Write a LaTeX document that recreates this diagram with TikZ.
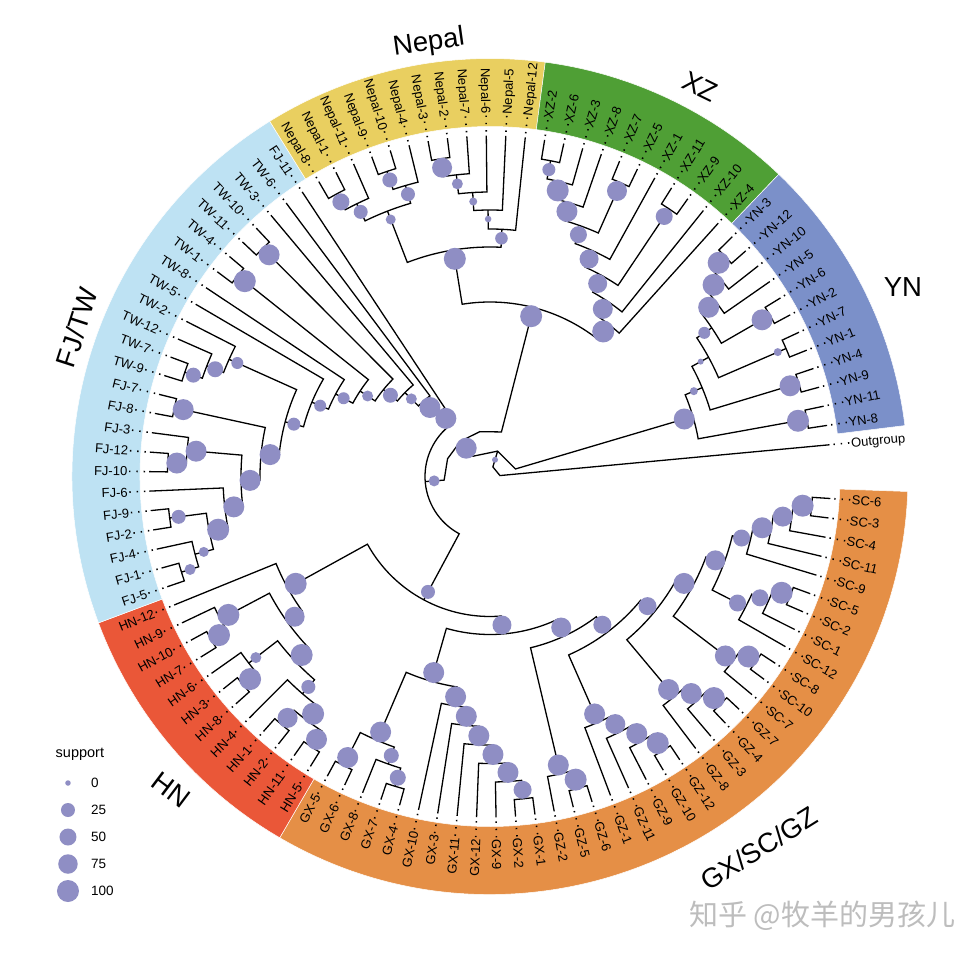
\documentclass[tikz,border=0pt]{standalone}
\usepackage{fontspec}
\setmainfont{Liberation Sans}
\newfontfamily\cjkfont{Noto Sans CJK SC}
\definecolor{suppc}{HTML}{8F8EC4}
\definecolor{ringO}{HTML}{E58F46}
\definecolor{ringR}{HTML}{EA5738}
\definecolor{ringB}{HTML}{BEE2F3}
\definecolor{ringY}{HTML}{E9CF60}
\definecolor{ringG}{HTML}{4F9F35}
\definecolor{ringV}{HTML}{7B90C9}
\pgfdeclarelayer{fg}
\pgfsetlayers{main,fg}
\tikzset{
  branch/.style={draw=black,line width=1.3pt,line join=miter},
  tipdots/.style={draw=black,line width=1.6pt,dash pattern=on 1.4pt off 5.9pt},
  supp/.style={circle,fill=suppc,draw=none,inner sep=0pt},
  tiplab/.style={inner sep=0pt,text height=9.4pt,text depth=0pt,font=\fontsize{13}{13}\selectfont},
  grouplab/.style={inner sep=0pt,font=\fontsize{27.5}{28}\selectfont},
  leglab/.style={inner sep=0pt,anchor=west,font=\fontsize{13.5}{14}\selectfont},
}
\newcommand{\sector}[3]{%
  \fill[#3,draw=white,line width=0.5pt] (#1:350pt) arc[start angle=#1,end angle=#2,radius=350pt]
    -- (#2:418pt) arc[start angle=#2,end angle=#1,radius=418pt] -- cycle;}
\newcommand{\tip}[2]{%
  \pgfmathsetmacro{\tipA}{-3.7-3.28*#2}%
  \expandafter\xdef\csname ang@#1\endcsname{\tipA}%
  \coordinate (#1) at (\tipA:341pt);%
  \coordinate (#1-d) at (\tipA:345pt);%
  \coordinate (#1-e) at (\tipA:361pt);%
  \draw[tipdots] (#1-d) -- (#1-e);%
  \pgfmathparse{cos(\tipA)>=0?1:0}%
  \ifdim\pgfmathresult pt>0.5pt
    \node[tiplab,anchor=west,rotate=\tipA] (#1-l) at (\tipA:362.5pt) {#1};%
  \else
    \pgfmathsetmacro{\tipR}{\tipA+180}%
    \node[tiplab,anchor=east,rotate=\tipR] (#1-l) at (\tipA:362.5pt) {#1};%
  \fi}
\newcommand{\cladeangles}[3]{%
  \edef\angA{\csname ang@#2\endcsname}%
  \edef\angB{\csname ang@#3\endcsname}%
  \pgfmathsetmacro{\angM}{(\angA+\angB)/2}%
  \expandafter\xdef\csname ang@#1\endcsname{\angM}}
\newcommand{\cladecircle}[2]{%
  \ifdim#2pt>0pt
    \pgfmathsetmacro{\radC}{\radN-9}%
    \begin{pgfonlayer}{fg}\node[supp,minimum size={2*#2 pt}] (#1-s) at (\angM:\radC pt) {};\end{pgfonlayer}%
  \fi}
\newcommand{\clade}[5]{%
  \cladeangles{#1}{#3}{#4}\def\radN{#2}%
  \coordinate (#1) at (\angM:#2pt);%
  \draw[branch] (#3) -- (\angA:#2pt) arc[start angle=\angA,end angle=\angB,radius=#2pt] -- (#4);%
  \cladecircle{#1}{#5}}
% same, for the innermost clades, whose arcs the reference shows as a few straight pieces
\newcommand{\cladepoly}[6]{%
  \cladeangles{#1}{#3}{#4}\def\radN{#2}%
  \coordinate (#1) at (\angM:#2pt);%
  \draw[branch] (#3) -- plot[samples=#6,domain=\angA:\angB] ({\x}:#2pt) -- (#4);%
  \cladecircle{#1}{#5}}
\begin{document}
\begin{tikzpicture}[x=1pt,y=1pt]
\fill[white] (-490,476.5) rectangle (489,-476.5);
\useasboundingbox (-490,476.5) rectangle (489,-476.5);
% ring
\sector{-2.06}{-120.2}{ringO}
\sector{-120.2}{-159.5}{ringR}
\sector{-159.5}{-238.2}{ringB}
\sector{-238.2}{-277.6}{ringY}
\sector{-277.6}{-313.7}{ringG}
\sector{-313.7}{-353.0}{ringV}
% tips
\tip{SC-6}{0}\tip{SC-3}{1}\tip{SC-4}{2}\tip{SC-11}{3}\tip{SC-9}{4}\tip{SC-5}{5}
\tip{SC-2}{6}\tip{SC-1}{7}\tip{SC-12}{8}\tip{SC-8}{9}\tip{SC-10}{10}\tip{SC-7}{11}
\tip{GZ-7}{12}\tip{GZ-4}{13}\tip{GZ-3}{14}\tip{GZ-8}{15}\tip{GZ-12}{16}\tip{GZ-10}{17}
\tip{GZ-9}{18}\tip{GZ-11}{19}\tip{GZ-1}{20}\tip{GZ-6}{21}\tip{GZ-5}{22}\tip{GZ-2}{23}
\tip{GX-1}{24}\tip{GX-2}{25}\tip{GX-9}{26}\tip{GX-12}{27}\tip{GX-11}{28}\tip{GX-3}{29}
\tip{GX-10}{30}\tip{GX-4}{31}\tip{GX-7}{32}\tip{GX-8}{33}\tip{GX-6}{34}\tip{GX-5}{35}
\tip{HN-5}{36}\tip{HN-11}{37}\tip{HN-2}{38}\tip{HN-1}{39}\tip{HN-4}{40}\tip{HN-8}{41}
\tip{HN-3}{42}\tip{HN-6}{43}\tip{HN-7}{44}\tip{HN-10}{45}\tip{HN-9}{46}\tip{HN-12}{47}
\tip{FJ-5}{48}\tip{FJ-1}{49}\tip{FJ-4}{50}\tip{FJ-2}{51}\tip{FJ-9}{52}\tip{FJ-6}{53}
\tip{FJ-10}{54}\tip{FJ-12}{55}\tip{FJ-3}{56}\tip{FJ-8}{57}\tip{FJ-7}{58}
\tip{TW-9}{59}\tip{TW-7}{60}\tip{TW-12}{61}\tip{TW-2}{62}\tip{TW-5}{63}\tip{TW-8}{64}
\tip{TW-1}{65}\tip{TW-4}{66}\tip{TW-11}{67}\tip{TW-10}{68}\tip{TW-3}{69}\tip{TW-6}{70}
\tip{FJ-11}{71}
\tip{Nepal-8}{72}\tip{Nepal-1}{73}\tip{Nepal-11}{74}\tip{Nepal-9}{75}\tip{Nepal-10}{76}
\tip{Nepal-4}{77}\tip{Nepal-3}{78}\tip{Nepal-2}{79}\tip{Nepal-7}{80}\tip{Nepal-6}{81}
\tip{Nepal-5}{82}\tip{Nepal-12}{83}
\tip{XZ-2}{84}\tip{XZ-6}{85}\tip{XZ-3}{86}\tip{XZ-8}{87}\tip{XZ-7}{88}\tip{XZ-5}{89}
\tip{XZ-1}{90}\tip{XZ-11}{91}\tip{XZ-9}{92}\tip{XZ-10}{93}\tip{XZ-4}{94}
\tip{YN-3}{95}\tip{YN-12}{96}\tip{YN-10}{97}\tip{YN-5}{98}\tip{YN-6}{99}\tip{YN-2}{100}
\tip{YN-7}{101}\tip{YN-1}{102}\tip{YN-4}{103}\tip{YN-9}{104}\tip{YN-11}{105}\tip{YN-8}{106}
\tip{Outgroup}{107}
% SC / GZ
\clade{sc63}{323}{SC-6}{SC-3}{11}
\clade{sc4}{304.5}{sc63}{SC-4}{10}
\clade{sc11}{286}{sc4}{SC-11}{10.5}
\clade{sc9}{268}{sc11}{SC-9}{8.5}
\clade{sc52}{323}{SC-5}{SC-2}{11}
\clade{sc1}{305}{sc52}{SC-1}{8.5}
\clade{sc12}{287}{sc1}{SC-12}{8.5}
\clade{scH}{249.5}{sc9}{sc12}{10}
\clade{sc810}{324}{SC-8}{SC-10}{11}
\clade{sc7}{305}{sc810}{SC-7}{10.5}
\clade{scG}{230.5}{scH}{sc7}{10.5}
\clade{gz74}{324}{GZ-7}{GZ-4}{11}
\clade{gz3}{305}{gz74}{GZ-3}{10.5}
\clade{gz8}{287}{gz3}{GZ-8}{10.5}
\clade{scF}{213}{scG}{gz8}{9}
\clade{gz1210}{324}{GZ-12}{GZ-10}{11}
\clade{gz9}{305}{gz1210}{GZ-9}{10.5}
\clade{gz11}{286.5}{gz9}{GZ-11}{10}
\clade{gz1}{268.5}{gz11}{GZ-1}{10.5}
\clade{scE}{195}{scF}{gz1}{9}
\clade{gz65}{324}{GZ-6}{GZ-5}{11}
\clade{gz2}{305.5}{gz65}{GZ-2}{10.5}
\clade{scC}{176}{scE}{gz2}{10}
% GX
\clade{gx21}{324}{GX-1}{GX-2}{9}
\clade{gx9}{305.5}{gx21}{GX-9}{10.5}
\clade{gx12}{287}{gx9}{GX-12}{10.5}
\clade{gx11}{268.5}{gx12}{GX-11}{10.5}
\clade{gx3}{250}{gx11}{GX-3}{10.5}
\clade{gx10}{232}{gx3}{GX-10}{10.5}
\clade{gx47}{324}{GX-4}{GX-7}{8}
\clade{gx8}{305}{gx47}{GX-8}{7.5}
\clade{gx65}{324}{GX-6}{GX-5}{10.5}
\clade{gx287}{287}{gx8}{gx65}{10.5}
\clade{gxR}{213}{gx10}{gx287}{10.5}
\clade{nodeB}{158}{scC}{gxR}{9.5}
% HN
\clade{hn511}{324}{HN-5}{HN-11}{10.5}
\clade{hn21}{324}{HN-2}{HN-1}{10}
\clade{hnY}{305}{hn511}{hn21}{11}
\clade{hnZ}{287}{hnY}{HN-4}{7}
\clade{hn83}{323}{HN-8}{HN-3}{11}
\clade{hn6}{305}{hn83}{HN-6}{5.5}
\clade{hnW}{268.5}{hnZ}{hn6}{11}
\clade{hn710}{323}{HN-7}{HN-10}{11}
\clade{hn9}{305}{hn710}{HN-9}{11}
\clade{hnV}{249.5}{hnW}{hn9}{10}
\clade{hnA}{231}{hnV}{HN-12}{11}
\clade{nodeS}{140}{nodeB}{hnA}{7}
% FJ / TW
\clade{fj51}{323}{FJ-5}{FJ-1}{5.5}
\clade{fj4}{305}{fj51}{FJ-4}{5}
\clade{fj29}{323}{FJ-2}{FJ-9}{7}
\clade{fj286}{286}{fj4}{fj29}{11}
\clade{fj6}{267}{fj286}{FJ-6}{10.5}
\clade{fj1012}{322.5}{FJ-10}{FJ-12}{10.5}
\clade{fj3}{304}{fj1012}{FJ-3}{10.5}
\clade{fjJ}{249}{fj6}{fj3}{10.5}
\clade{fj87}{323}{FJ-8}{FJ-7}{10.5}
\clade{fj230}{230}{fjJ}{fj87}{10.5}
\clade{tw97}{322.5}{TW-9}{TW-7}{7.5}
\clade{tw12}{304}{tw97}{TW-12}{8}
\clade{tw2}{286}{tw12}{TW-2}{6}
\clade{twQ}{212}{fj230}{tw2}{6.5}
\clade{twR}{193}{twQ}{TW-5}{6}
\clade{tw8}{175}{twR}{TW-8}{6}
\clade{tw14}{322.5}{TW-1}{TW-4}{11}
\clade{twT}{155.5}{tw8}{tw14}{5.5}
\clade{tw1110}{322}{TW-11}{TW-10}{10.5}
\clade{tw137}{137.5}{twT}{tw1110}{7.5}
\clade{tw3}{119.5}{tw137}{TW-3}{5.5}
\clade{tw6}{100.5}{tw3}{TW-6}{10.5}
\clade{fj11}{82}{tw6}{FJ-11}{10.5}
\clade{nodeT}{65}{nodeS}{fj11}{5.5}
% Nepal
\clade{np81}{321.5}{Nepal-8}{Nepal-1}{8.5}
\clade{np11}{303.5}{np81}{Nepal-11}{7}
\clade{np910}{322}{Nepal-9}{Nepal-10}{7.5}
\clade{np4}{303}{np910}{Nepal-4}{7}
\clade{npm}{284.5}{np11}{np4}{5}
\clade{np32}{321.5}{Nepal-3}{Nepal-2}{10}
\clade{np7}{303.5}{np32}{Nepal-7}{5.5}
\clade{np6}{284.5}{np7}{Nepal-6}{4}
\clade{np5}{266.5}{np6}{Nepal-5}{3.3}
\clade{np12}{247.5}{np5}{Nepal-12}{6.3}
\clade{npR}{229.5}{npm}{np12}{11}
% XZ
\clade{xz26}{321.5}{XZ-2}{XZ-6}{6.5}
\clade{xz3}{303}{xz26}{XZ-3}{11}
\clade{xz8}{285}{xz3}{XZ-8}{10.5}
\clade{xz75}{321.5}{XZ-7}{XZ-5}{10}
\clade{xzm}{266.5}{xz8}{xz75}{8.5}
\clade{xz1}{248}{xzm}{XZ-1}{9.5}
\clade{xz119}{322}{XZ-11}{XZ-9}{8.5}
\clade{xzn}{230}{xz1}{xz119}{9.5}
\clade{xz10}{211}{xzn}{XZ-10}{10}
\clade{xz4}{193}{xz10}{XZ-4}{11}
\clade{nodeX}{174.5}{npR}{xz4}{11}
\cladepoly{nodeU}{46}{nodeT}{nodeX}{10.5}{5}
% YN
\clade{yn312}{322}{YN-3}{YN-12}{11}
\clade{yn10}{303.5}{yn312}{YN-10}{11}
\clade{yn5}{285.5}{yn10}{YN-5}{10.5}
\clade{yn62}{323}{YN-6}{YN-2}{10.5}
\clade{ynf}{267}{yn5}{yn62}{6}
\clade{yn71}{322.5}{YN-7}{YN-1}{4}
\clade{yng}{249}{ynf}{yn71}{3}
\clade{yn49}{322.5}{YN-4}{YN-9}{10.5}
\clade{ynh}{230}{yng}{yn49}{4}
\clade{yn118}{322}{YN-11}{YN-8}{11}
\clade{ynR}{211.6}{ynh}{yn118}{10.5}
\cladepoly{nodeV}{26.5}{nodeU}{ynR}{3}{3}
\cladepoly{root}{10}{nodeV}{Outgroup}{0}{2}
% group labels
\node[grouplab,rotate=8] (gNepal) at (-61,433.5) {Nepal};
\node[grouplab,rotate=-26] (gXZ) at (210,389.5) {XZ};
\node[grouplab] (gYN) at (413,189.5) {YN};
\node[grouplab,rotate=32] (gGX) at (269,-372) {GX/SC/GZ};
\node[grouplab,rotate=-37] (gHN) at (-319,-313) {HN};
\node[grouplab,rotate=72] (gFJ) at (-413,149) {FJ/TW};
% legend
\node[inner sep=0pt,anchor=west,font=\fontsize{14.5}{15}\selectfont] (legT) at (-434.5,-278) {support};
\node[supp,minimum size=5.5pt] (leg0) at (-422,-306.5) {};
\node[supp,minimum size=14pt] (leg25) at (-422,-333.5) {};
\node[supp,minimum size=17pt] (leg50) at (-422,-360.5) {};
\node[supp,minimum size=19.5pt] (leg75) at (-422,-387.5) {};
\node[supp,minimum size=22pt] (leg100) at (-422,-414.5) {};
\node[leglab] (lab0) at (-399,-306.5) {0};
\node[leglab] (lab25) at (-399,-333.5) {25};
\node[leglab] (lab50) at (-399,-360.5) {50};
\node[leglab] (lab75) at (-399,-387.5) {75};
\node[leglab] (lab100) at (-399,-414.5) {100};
% watermark
\node[inner sep=0pt,anchor=west,text=black!26,font=\cjkfont\fontsize{29}{31}\selectfont] (wm) at (199,-439) {知乎 @牧羊的男孩儿};
\end{tikzpicture}
\end{document}
